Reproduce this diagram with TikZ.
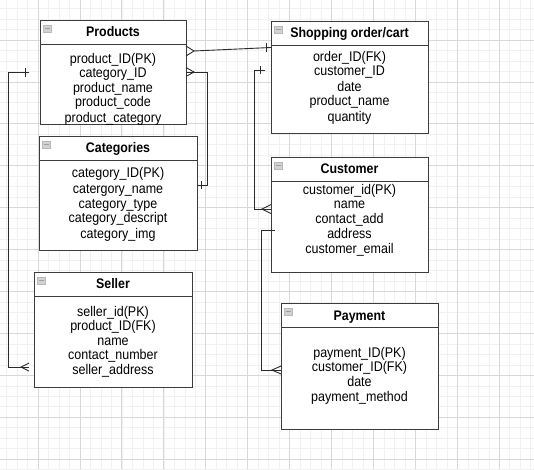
\documentclass[tikz,border=0pt]{standalone}
\usepackage{fontspec}
\setmainfont{Liberation Sans}
\usetikzlibrary{calc}
\definecolor{minorc}{HTML}{F1F1F1}
\definecolor{majorc}{HTML}{D8D8D8}
\definecolor{boxc}{HTML}{3C3C3C}
\definecolor{connc}{HTML}{2A2A2A}
\newcommand\st[1]{\scalebox{1}[1.12]{#1}}
\newcommand\erbox[7]{%
  \node[tbl, minimum width=#4pt, minimum height=#5pt, anchor=north west] (#1) at (#2,#3) {};
  \draw[tblline] ($(#1.north west)+(0,24)$) -- ($(#1.north east)+(0,24)$);
  \node[ttl] (#1-t) at ($(#1.north west)+(0.5*#4,#7)$) {\st{#6}};
  \draw[icon] ($(#1.north west)+(3.5,5)$) rectangle ++(8,7);
  \draw[iconbar] ($(#1.north west)+(5,8.5)$) -- ++(5,0);
}
\begin{document}
\begin{tikzpicture}[x=1pt,y=-1pt,
  tbl/.style={draw=boxc, fill=white, line width=1pt, inner sep=0pt, outer sep=0pt},
  tblline/.style={draw=boxc, line width=1pt},
  ttl/.style={font=\bfseries\fontsize{12.4}{14}\selectfont, inner sep=0pt, text=black, anchor=base},
  attr/.style={font=\fontsize{12.5}{14}\selectfont, inner sep=0pt, text=black, anchor=base},
  icon/.style={fill=gray!35, draw=gray!55, line width=0.6pt},
  iconbar/.style={draw=gray!75, line width=1.3pt},
  conn/.style={draw=connc, line width=0.9pt},
  minor/.style={draw=minorc, line width=0.8pt},
  major/.style={draw=majorc, line width=0.8pt}]
\useasboundingbox (0,0) rectangle (534,469);
\fill[white] (0,0) rectangle (534,469);
% grid
\foreach \i in {0,...,51} \draw[minor] ({6.7+\i*10.4825},0) -- ++(0,469);
\foreach \i in {0,...,45} \draw[minor] (0,{8.55+\i*10.4825}) -- ++(534,0);
\foreach \i in {0,...,12} \draw[major] ({38.0+\i*41.93},0) -- ++(0,469);
\foreach \i in {0,...,10} \draw[major] (0,{40.0+\i*41.93}) -- ++(534,0);

% entities: name, x, y, w, h, title, title baseline offset
\erbox{products}{40}{20}{146}{104}{Products}{16.8}
\erbox{shop}{271}{21}{157}{112}{Shopping order/cart}{16.2}
\erbox{cat}{39}{136}{158}{114}{Categories}{16.0}
\erbox{cust}{271}{157}{157}{115}{Customer}{16.0}
\erbox{seller}{34}{272}{158}{115}{Seller}{16.7}
\erbox{pay}{281}{303}{157}{126}{Payment}{17.3}

% attributes
\node[attr] (p1) at (113,63.7) {\st{product\_ID(PK)}};
\node[attr] (p2) at (113,77.3) {\st{category\_ID}};
\node[attr] (p3) at (113,92.3) {\st{product\_name}};
\node[attr] (p4) at (113,106.7) {\st{product\_code}};
\node[attr] (p5) at (113,122) {\st{product\_category}};

\node[attr] (s1) at (349.5,61.8) {\st{order\_ID(FK)}};
\node[attr] (s2) at (349.5,75.2) {\st{customer\_ID}};
\node[attr] (s3) at (349.5,91.2) {\st{date}};
\node[attr] (s4) at (349.5,105) {\st{product\_name}};
\node[attr] (s5) at (349.5,121.2) {\st{quantity}};

\node[attr] (k1) at (118,177.8) {\st{category\_ID(PK)}};
\node[attr] (k2) at (118,193.5) {\st{catergory\_name}};
\node[attr] (k3) at (118,208) {\st{category\_type}};
\node[attr] (k4) at (118,222.8) {\st{category\_descript}};
\node[attr] (k5) at (118,238.2) {\st{category\_img}};

\node[attr] (u1) at (349.5,194) {\st{customer\_id(PK)}};
\node[attr] (u2) at (349.5,208.7) {\st{name}};
\node[attr] (u3) at (349.5,223.3) {\st{contact\_add}};
\node[attr] (u4) at (349.5,238.3) {\st{address}};
\node[attr] (u5) at (349.5,253.3) {\st{customer\_email}};

\node[attr] (e1) at (113,316.8) {\st{seller\_id(PK)}};
\node[attr] (e2) at (113,330) {\st{product\_ID(FK)}};
\node[attr] (e3) at (113,345.2) {\st{name}};
\node[attr] (e4) at (113,359.5) {\st{contact\_number}};
\node[attr] (e5) at (113,374) {\st{seller\_address}};

\node[attr] (y1) at (359.5,357.2) {\st{payment\_ID(PK)}};
\node[attr] (y2) at (359.5,371.2) {\st{customer\_ID(FK)}};
\node[attr] (y3) at (359.5,386.8) {\st{date}};
\node[attr] (y4) at (359.5,401.2) {\st{payment\_method}};

% connectors
% 1 products (many) -- shopping (one)
\coordinate (c1a) at ($(products.north east)+(0,31)$);
\coordinate (c1b) at ($(shop.north west)+(0,26.5)$);
\draw[conn] (c1a) ++(0,-5) -- ++(8,5) -- ++(-8,5);
\draw[conn] ($(c1a)+(8,0)$) -- (c1b);
\draw[conn] ($(c1b)+(-5,-4.5)$) -- ++(0,9);
% 2 products category_ID (many) -- categories (one)
\coordinate (c2a) at ($(products.north east)+(0,52)$);
\coordinate (c2b) at ($(cat.north east)+(0,49)$);
\draw[conn] (c2a) ++(0,-4.5) -- ++(8,4.5) -- ++(-8,4.5);
\draw[conn] (c2a) -- ++(21,0) |- (c2b);
\draw[conn] ($(c2b)+(4,-4)$) -- ++(0,8);
% 3 products (one) -- seller (many)
\coordinate (c3a) at ($(products.north west)+(-11,52)$);
\coordinate (c3b) at ($(seller.north west)+(-5,95)$);
\draw[conn] (c3a) -- ++(-21,0) |- (c3b);
\draw[conn] ($(c3a)+(-4,-4.5)$) -- ++(0,9);
\draw[conn] ($(c3b)+(0,-4)$) -- ++(-8,4) -- ++(8,4);
% 4 shopping (one) -- customer (many)
\coordinate (c4a) at ($(shop.north west)+(-6,49)$);
\coordinate (c4b) at ($(cust.north west)+(0,52)$);
\draw[conn] (c4a) -- ++(-10.5,0) |- (c4b);
\draw[conn] ($(c4a)+(-5,-4)$) -- ++(0,8);
\draw[conn] (c4b) ++(0,-4.5) -- ++(-9,4.5) -- ++(9,4.5);
% 5 customer -- payment (many)
\coordinate (c5a) at ($(cust.north west)+(4,73)$);
\coordinate (c5b) at ($(pay.north west)+(0,67)$);
\draw[conn] (c5a) -- ++(-14,0) |- (c5b);
\draw[conn] (c5b) ++(0,-4) -- ++(-9,4) -- ++(9,4);
\end{tikzpicture}
\end{document}
